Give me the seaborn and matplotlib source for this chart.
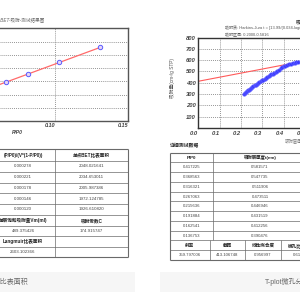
import numpy as np
import pandas as pd
import matplotlib
matplotlib.use("Agg")
import matplotlib.pyplot as plt
from matplotlib.patches import Rectangle
import seaborn as sns

# ---------------- data ----------------
bet_x = [0.1310, 0.1030, 0.0818, 0.0661, 0.0533]
bet_y = [0.000278, 0.000221, 0.000178, 0.000146, 0.000120]
single_bet = [2048.021641, 2034.653011, 2005.987386, 1972.124785, 1926.610820]
vm_value = 489.375426
c_value = 174.915747
langmuir_value = 2603.102366

tplot_t_pts = [0.216, 0.220, 0.225, 0.229, 0.234, 0.239, 0.244, 0.249, 0.254, 0.259,
               0.265, 0.270, 0.276, 0.281, 0.287, 0.293, 0.299, 0.305, 0.311, 0.317,
               0.323, 0.330, 0.336, 0.343, 0.350, 0.357, 0.364, 0.371, 0.378, 0.386,
               0.393, 0.401, 0.409, 0.417, 0.426, 0.434, 0.443, 0.452, 0.461, 0.470,
               0.480, 0.490, 0.500]
tplot_v_pts = [300, 308, 317, 324, 332, 340, 348, 355, 362, 369,
               377, 384, 391, 398, 405, 412, 420, 427, 434, 442,
               449, 457, 465, 473, 481, 490, 499, 508, 517, 527,
               536, 545, 552, 558, 563, 568, 572, 576, 580, 584,
               588, 592, 596]
tplot_p = [0.417225, 0.368563, 0.316321, 0.267063, 0.215636, 0.191884, 0.162541, 0.136753]
tplot_t = [0.581571, 0.547735, 0.511906, 0.473511, 0.446946, 0.431519, 0.412256, 0.390476]
slope = 359.797006
intercept = 413.106748
r2 = 0.956997

tplot_xticks = [0.0, 0.1, 0.2, 0.3, 0.4, 0.5, 0.6, 0.7]
tplot_yticks = [0, 100, 200, 300, 400, 500, 600, 700, 800]
bet_xticks = [0.0, 0.05, 0.10, 0.15]

# ---------------- style ----------------
sns.set_theme(style="white")
plt.rcParams["font.family"] = ["Liberation Sans", "Noto Sans CJK SC", "DejaVu Sans"]
plt.rcParams["axes.unicode_minus"] = False

W = H = 300
fig = plt.figure(figsize=(3, 3), dpi=100)
fig.patch.set_facecolor("white")


def box(l, r, t, b):
    return [l / W, 1 - b / H, (r - l) / W, (b - t) / H]


grid_kw = dict(color="#858585", linestyle=(0, (1, 1.3)), linewidth=0.65)

# ---------------- left: BET plot ----------------
ax1 = fig.add_axes(box(-91, 128, 28.3, 121))
coef = np.polyfit(bet_x, bet_y, 1)
fit_x = np.array([min(bet_x), max(bet_x)])
sns.lineplot(x=fit_x, y=np.polyval(coef, fit_x), ax=ax1, color="#ff6a6a", linewidth=0.9)
sns.scatterplot(x=bet_x, y=bet_y, ax=ax1, s=10, color="#5a5aff", linewidth=0.7, zorder=3)
ax1.collections[-1].set_facecolor("#e6d6f5")
ax1.collections[-1].set_edgecolor("#5a5aff")
ax1.set_xlim(0, 0.15)
ax1.set_ylim(0, 0.00035)
ax1.set_xticks(bet_xticks)
# labels left of the visible area are off the page in the reference
ax1.set_xticklabels([f"{v:.2f}" if v >= 0.1 else "" for v in bet_xticks])
ax1.set_yticks(np.arange(0, 0.000351, 0.00005))
ax1.set_yticklabels([])
ax1.grid(True, **grid_kw)
ax1.tick_params(length=0, labelsize=4, pad=1.5, colors="#444444")
for lab in ax1.get_xticklabels():
    lab.set_ha("right")
    lab.set_style("italic")
    lab.set_weight("bold")
ax1.set_xlabel("")
ax1.set_ylabel("")
for s in ax1.spines.values():
    s.set_color("#555555")
    s.set_linewidth(1.0)

# ---------------- right: t-plot ----------------
ax2 = fig.add_axes(box(198.3, 347.4, 37.5, 128))
fit_t = np.array([0.0, 0.7])
sns.lineplot(x=fit_t, y=intercept + slope * fit_t, ax=ax2, color="#ff5a5a", linewidth=0.8)
sns.scatterplot(x=tplot_t_pts, y=tplot_v_pts, ax=ax2, s=7, color="#3a3aff",
                edgecolor="#7272ff", linewidth=0.3, zorder=3)
ax2.set_xlim(0, 0.7)
ax2.set_ylim(0, 800)
ax2.set_xticks(tplot_xticks)
ax2.set_xticklabels([f"{v:.1f}" if v <= 0.5 else "" for v in tplot_xticks])
ax2.set_yticks(tplot_yticks)
ax2.set_yticklabels(["" if v == 0 else str(v) for v in tplot_yticks])
ax2.grid(True, **grid_kw)
ax2.tick_params(length=0, labelsize=4.2, pad=2, colors="#444444")
for lab in ax2.get_xticklabels():
    lab.set_ha("right")
    lab.set_style("italic")
    lab.set_weight("bold")
for lab in ax2.get_yticklabels():
    lab.set_style("italic")
    lab.set_weight("bold")
ax2.set_xlabel("")
ax2.set_ylabel("")
for s in ax2.spines.values():
    s.set_color("#333333")
    s.set_linewidth(1.0)

# ---------------- overlay for text and tables ----------------
ov = fig.add_axes([0, 0, 1, 1], zorder=5)
ov.set_xlim(0, W)
ov.set_ylim(H, 0)
ov.axis("off")
ov.patch.set_alpha(0)

ov.text(45, 20, "多点BET-吸附-测试结果图", ha="right", va="center", fontsize=3.3,
        color="#666666", style="italic")
ov.text(12, 132, "P/P0", ha="left", va="center", fontsize=3.6, color="#444444",
        style="italic", weight="bold")

ov.text(296, 22, "吸附T-plot结果图", ha="left", va="center", fontsize=3.6,
        color="#333333", weight="bold")
ov.text(225, 28, "吸附质: Harkins-Jura t = [13.99/(0.034-log(P/P0))]^0.5", ha="left",
        va="center", fontsize=2.9, color="#555555")
ov.text(225, 34, "吸附区间: 0.2000-0.5816", ha="left", va="center", fontsize=2.9,
        color="#555555")
ov.text(172, 78, "吸附量(cm³/g STP)", ha="center", va="center", rotation=90,
        fontsize=3.4, color="#555555")
ov.text(285, 141.5, "吸附层厚度t(nm)", ha="left", va="center", fontsize=3.2, color="#777777")
ov.text(170, 146, "详细测试数据", ha="left", va="center", fontsize=3.5, color="#222222",
        weight="bold")

line_c = "#6a6a6a"


def hline(y, x0, x1, lw=0.5):
    ov.plot([x0, x1], [y, y], color=line_c, lw=lw, solid_capstyle="butt")


def vline(x, y0, y1, lw=0.5):
    ov.plot([x, x], [y0, y1], color=line_c, lw=lw, solid_capstyle="butt")


# left table
lrows = [149.3, 160.7, 171.7, 182.7, 193.3, 204, 215, 226, 236, 246.7, 256.7]
lcols = [-10, 55, 128]
for i, y in enumerate(lrows):
    hline(y, lcols[0], lcols[-1], 0.8 if i in (0, len(lrows) - 1) else 0.5)
vline(55, lrows[0], lrows[-1])
vline(128, lrows[0], lrows[-1], 0.8)
lcx = [23, 91.5]
left_cells = [
    [("(P/P0)/(V*(1-P/P0))", True), ("单点BET比表面积", True)],
] + [[(f"{y:.6f}", False), (f"{v:.6f}", False)] for y, v in zip(bet_y, single_bet)] + [
    [("单层饱和吸附量Vm(ml)", True), ("吸附常数C", True)],
    [(f"{vm_value:.6f}", False), (f"{c_value:.6f}", False)],
    [("Langmuir比表面积", True), ("", False)],
    [(f"{langmuir_value:.6f}", False), ("", False)],
]
for r, row in enumerate(left_cells):
    yc = (lrows[r] + lrows[r + 1]) / 2
    for c, (txt, bold) in enumerate(row):
        ov.text(lcx[c], yc, txt, ha="center", va="center",
                fontsize=3.3 if bold else 3.2, color="#222222" if bold else "#444444",
                weight="bold" if bold else "normal")

# right table
rrows = list(np.linspace(152.7, 260, 12))
for i, y in enumerate(rrows):
    hline(y, 170, 310, 0.8 if i in (0, len(rrows) - 1) else 0.5)
vline(170, rrows[0], rrows[-1], 0.8)
vline(213, rrows[0], rrows[9])
for x in (210, 245, 281):
    vline(x, rrows[9], rrows[11])
right_cells = [[("P/P0", True), ("吸附层厚度t(nm)", True)]] + \
    [[(f"{p:.6f}", False), (f"{t:.6f}", False)] for p, t in zip(tplot_p, tplot_t)]
for r, row in enumerate(right_cells):
    yc = (rrows[r] + rrows[r + 1]) / 2
    for xc, (txt, bold) in zip([191.5, 260], row):
        ov.text(xc, yc, txt, ha="center", va="center", fontsize=3.2 if bold else 3.1,
                color="#222222" if bold else "#444444", weight="bold" if bold else "normal")
bottom_x = [190, 227.5, 263, 302]
bottom_head = ["斜率", "截距", "线性拟合度", "微孔比表面积"]
bottom_vals = [f"{slope:.6f}", f"{intercept:.6f}", f"{r2:.6f}", "0.612345"]
for xc, h, v in zip(bottom_x, bottom_head, bottom_vals):
    ov.text(xc, (rrows[9] + rrows[10]) / 2, h, ha="center", va="center", fontsize=3.3,
            color="#222222", weight="bold")
    ov.text(xc, (rrows[10] + rrows[11]) / 2, v, ha="center", va="center", fontsize=3.1,
            color="#444444")

# caption boxes
ov.add_patch(Rectangle((-5, 272), 140, 20, facecolor="#f6f6f6", edgecolor="none"))
ov.add_patch(Rectangle((160, 272), 145, 20, facecolor="#f6f6f6", edgecolor="none"))
ov.text(28, 282, "BET比表面积", ha="right", va="center", fontsize=5, color="#666666")
ov.text(265, 282, "T-plot微孔分析", ha="left", va="center", fontsize=5, color="#666666")

fig.savefig("out.png", dpi=100, facecolor="white")
